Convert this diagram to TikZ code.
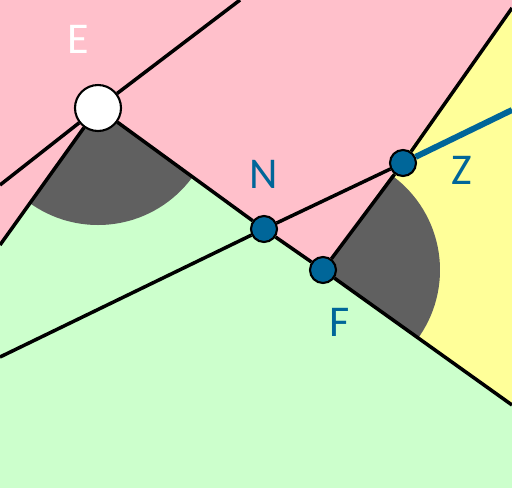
\documentclass[tikz,border=0pt]{standalone}
\usepackage{fontspec}
\setmainfont{Carlito}
\usetikzlibrary{positioning,backgrounds}

\definecolor{areaPink}{RGB}{255,192,203}
\definecolor{areaGreen}{RGB}{204,255,204}
\definecolor{areaYellow}{RGB}{255,255,153}
\definecolor{sectorGray}{RGB}{96,96,96}
\definecolor{ptBlue}{RGB}{0,102,153}

\begin{document}
\begin{tikzpicture}[%
	x=0.02cm,y=-0.02cm,on grid,
	pt/.style={circle,draw=black,line width=1.2pt,fill=ptBlue,minimum size=0.52cm,inner sep=0pt},
	ptWhite/.style={pt,fill=white,minimum size=0.92cm},
	lbl/.style={font=\fontsize{25}{30}\selectfont,text=ptBlue,inner sep=0pt},
	seg/.style={draw=black,line width=2pt},
	blueSeg/.style={draw=ptBlue,line width=3.4pt}]

	\useasboundingbox (0,0) rectangle (512,488);

	% points
	\node[ptWhite]	(E)	at (98,108)	{};
	\node[pt]		(N)	at (264,229)	{};
	\node[pt]		(Z)	at (403,163)	{};
	\node[pt]		(F)	at (323,270)	{};

	\node[lbl,text=white]	(lE)	[above left=1.38cm and 0.4cm of E]		{E};
	\node[lbl]				(lN)	[above=1.1cm of N]						{N};
	\node[lbl]				(lZ)	[below right=0.14cm and 1.18cm of Z]	{Z};
	\node[lbl]				(lF)	[below right=1.04cm and 0.34cm of F]	{F};

	% free ends on the border
	\coordinate (upA)		at (0,185);
	\coordinate (upB)		at (240,0);
	\coordinate (steepEnd)	at (0,245);
	\coordinate (efEnd)		at (512,405);
	\coordinate (nzStart)	at (0,357);
	\coordinate (blueEnd)	at (512,110);
	\coordinate (fzEnd)		at (512,8);

	\begin{scope}[on background layer]
		\fill[areaPink] (0,0) -- (512,0) -- (fzEnd) -- (F.center) -- (E.center) -- (steepEnd) -- cycle;
		\fill[areaYellow] (fzEnd) -- (F.center) -- (efEnd) -- cycle;
		\fill[areaGreen] (steepEnd) -- (E.center) -- (F.center) -- (efEnd) -- (512,488) -- (0,488) -- cycle;
		\begin{scope}
			\clip (steepEnd) -- (E.center) -- (F.center) -- (efEnd) -- (512,488) -- (0,488) -- cycle;
			\fill[sectorGray] (E.center) circle[radius=117];
		\end{scope}
		\begin{scope}
			\clip (fzEnd) -- (F.center) -- (efEnd) -- cycle;
			\fill[sectorGray] (F.center) circle[radius=117];
		\end{scope}
	\end{scope}

	% lines
	\path[seg] (upA) -- (E) -- (upB);
	\path[seg] (E) -- (steepEnd);
	\path[seg] (E) -- (N) -- (F) -- (efEnd);
	\path[seg] (nzStart) -- (N) -- (Z);
	\path[seg] (F) -- (Z) -- (fzEnd);
	\path[blueSeg] (Z) -- (blueEnd);

\end{tikzpicture}
\end{document}
